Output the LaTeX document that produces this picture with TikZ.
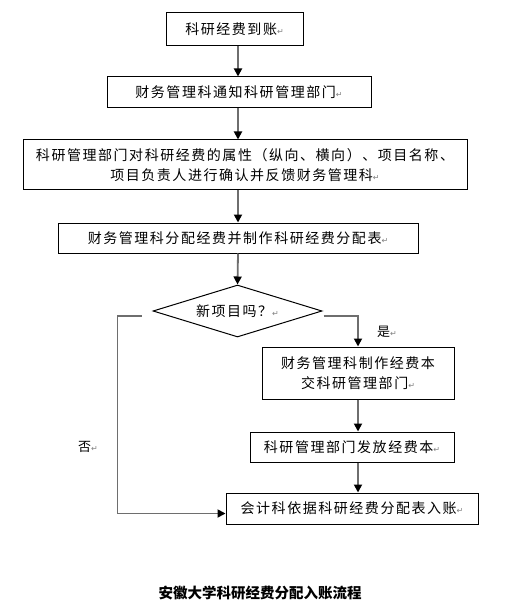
\documentclass[tikz,border=0pt]{standalone}
\usepackage{fontspec}
\setmainfont{Noto Sans CJK SC}[LetterSpace=11]
\newfontfamily\titlefont{Noto Sans CJK SC}
\newfontfamily\markfont{DejaVu Sans}
\usetikzlibrary{arrows.meta, shapes.geometric}
\definecolor{cline}{HTML}{6E6E6E}
\newcommand{\pmark}{{\markfont\fontsize{8}{8}\selectfont\color{gray}↵}}
\tikzset{
  box/.style={draw, line width=1pt, align=center, inner sep=0pt, font=\fontsize{14}{20}\selectfont},
  decision/.style={box, diamond, aspect=3.25},
  flow/.style={-{Triangle[length=8pt, width=8pt, color=black]}, draw=cline, line width=1.8pt},
  label/.style={font=\fontsize{13}{15}\selectfont},
  title/.style={font=\titlefont\bfseries\fontsize{14.5}{16}\selectfont},
}
\begin{document}
\begin{tikzpicture}[x=1pt, y=-1pt]
  \path[use as bounding box, fill=white] (0,0) rectangle (517,612);
  % upper chain
  \node[box, minimum width=137pt, minimum height=33pt] (arrive) at (234.5,29.5) {科研经费到账\pmark};
  \node[box, minimum width=264pt, minimum height=31pt] (notify) at (239,92.5) {财务管理科通知科研管理部门\pmark};
  \node[box, minimum width=444pt, minimum height=50pt] (confirm) at (245,165) {科研管理部门对科研经费的属性（纵向、横向）、项目名称、\\项目负责人进行确认并反馈财务管理科\pmark};
  \node[box, minimum width=360pt, minimum height=30pt] (alloc) at (238,238) {财务管理科分配经费并制作科研经费分配表\pmark};
  \node[decision, minimum width=169pt, minimum height=52pt] (isnew) at (237.5,311) {新项目吗？\pmark};
  % branch for new projects
  \node[box, minimum width=192pt, minimum height=52pt] (book) at (358,373) {财务管理科制作经费本\\交科研管理部门\pmark};
  \node[box, minimum width=204pt, minimum height=30pt] (issue) at (352,447) {科研管理部门发放经费本\pmark};
  \node[box, minimum width=252pt, minimum height=31pt] (entry) at (352,508.5) {会计科依据科研经费分配表入账\pmark};
  \node[label] (yes) at (387,332) {是\pmark};
  \node[label] (no) at (88,447) {否\pmark};
  \node[title] (caption) at (260,593) {安徽大学科研经费分配入账流程};

  \coordinate (spine) at (238,0);
  \draw[flow] (spine |- arrive.south) -- (spine |- notify.north);
  \draw[flow] (spine |- notify.south) -- (spine |- confirm.north);
  \draw[flow] (spine |- confirm.south) -- (spine |- alloc.north);
  \draw[flow] (spine |- alloc.south) -- (isnew.north);
  \draw[flow] ([shift={(1,5)}]isnew.east) -| (book.north);
  \draw[flow] (book.south) -- (book.south |- issue.north);
  \draw[flow] (book.south |- issue.south) -- (book.south |- entry.north);
  \draw[flow] ([shift={(-11,5)}]isnew.west) -- ++(-24,0) |- ([yshift=-5pt]entry.west);
\end{tikzpicture}
\end{document}
